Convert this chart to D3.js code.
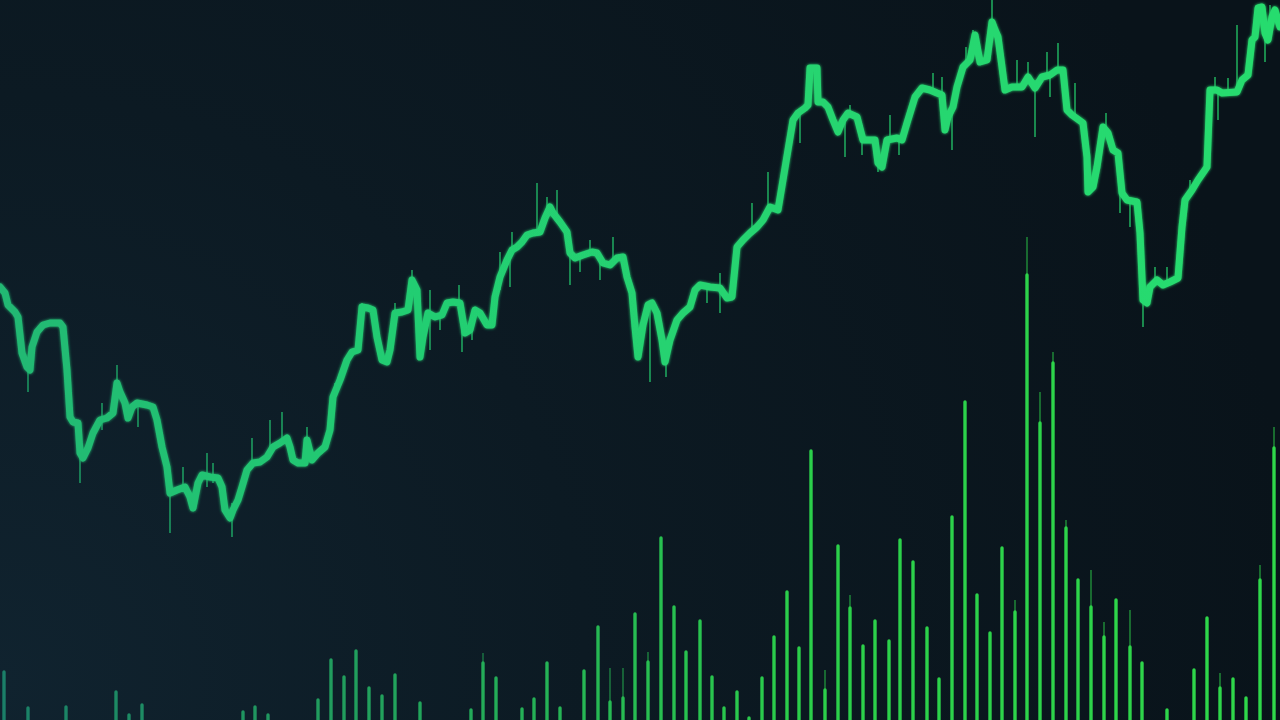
<!DOCTYPE html>
<html>
<head>
<meta charset="utf-8">
<script src="https://cdn.jsdelivr.net/npm/d3@7"></script>
<style>
  html, body { margin: 0; padding: 0; background: #0b161e; overflow: hidden; }
  svg { display: block; }
</style>
</head>
<body>
<div id="chart"></div>
<script>
// price line: time (minutes) and price
const priceT = [0,5,8,15,18,22,27,30,32,37,43,50,60,63,67,70,73,78,80,83,88,93,100,107,113,117,120,125,128,132,137,147,153,157,162,167,170,177,185,190,193,198,202,210,218,222,225,230,233,238,242,247,253,260,267,273,280,287,290,293,298,305,307,312,318,325,330,
  333,340,347,352,358,362,368,373,377,382,387,390,395,402,408,412,417,420,423,428,435,442,447,453,460,465,470,475,480,487,492,495,500,507,512,517,522,527,533,540,545,550,553,560,567,570,575,583,592,597,603,610,617,623,627,632,635,638,643,648,
  652,657,662,665,670,677,683,690,695,700,710,720,727,732,737,743,750,757,763,770,778,783,788,793,798,805,808,810,817,818,823,828,833,838,843,848,857,863,870,875,878,882,887,897,902,907,915,922,930,937,942,945,948,953,957,963,970,975,980,987,992,995,998,1002,1005,1012,1022,1028,1035,1042,1050,1057,1063,1067,1072,1083,1087,1088,1093,1097,1103,1108,1113,1118,1122,1127,1137,1140,1143,1147,1150,1157,1163,1170,1178,1182,1185,1192,1198,1207,1210,1217,1222,1237,1242,1248,1252,1255,1258,1262,1265,1268,1272,1275,1280];
const priceV = [83.3,82.7,81.5,80.8,80.3,76.7,75.3,75.0,77.3,78.8,79.5,79.7,79.7,79.3,75.0,70.3,69.8,69.7,66.7,66.2,67.2,68.7,70.0,70.2,70.7,73.7,72.8,71.7,70.2,71.3,71.7,71.5,71.3,70.0,67.3,65.3,62.7,63.0,63.3,62.3,61.2,63.7,64.5,64.3,64.2,63.3,61.0,60.2,61.0,62.0,63.3,65.0,65.7,65.8,66.3,67.3,67.7,68.2,67.3,66.0,65.7,65.7,68.0,66.0,66.7,67.3,69.0,
  72.3,74.0,76.0,76.8,77.0,81.3,81.2,81.0,78.3,76.0,75.8,77.0,80.7,80.8,81.0,84.0,83.0,76.3,78.3,80.7,80.3,80.5,81.7,81.8,81.7,78.7,79.0,81.0,80.7,79.5,79.5,82.3,84.3,86.0,87.0,87.3,87.8,88.5,88.7,88.8,90.2,91.3,90.7,89.8,88.8,86.7,86.2,86.5,86.8,86.7,85.7,85.5,86.2,86.3,84.3,82.7,79.3,76.3,79.5,81.5,
  81.7,80.7,78.0,75.8,78.0,80.0,80.7,81.3,83.0,83.5,83.3,83.2,82.2,82.3,87.3,88.0,88.7,89.3,90.0,91.3,91.0,94.0,97.0,100.0,100.7,101.2,101.5,105.2,105.2,101.8,101.8,101.3,100.0,98.8,100.0,100.7,100.3,98.0,98.0,98.0,95.7,95.3,98.0,98.2,98.0,99.7,102.3,103.2,103.0,102.7,102.5,99.0,100.3,101.3,103.3,105.3,106.0,108.5,105.8,106.0,109.8,109.0,108.3,105.3,103.0,103.3,103.3,104.3,103.2,104.3,104.5,105.0,105.0,101.0,100.5,99.7,96.3,92.8,93.3,95.3,99.3,98.7,97.0,96.7,92.7,92.0,91.8,88.7,82.0,81.7,83.3,84.0,83.5,83.8,84.2,89.3,92.0,93.0,94.0,95.3,103.0,103.0,102.7,102.8,104.0,104.5,108.0,108.3,111.2,111.3,108.7,108.0,110.3,111.0,109.3];

// thin high/low ticks around the line
const wickT  = [28,80,102,117,138,170,183,207,213,232,252,270,282,307,335,362,395,412,430,440,459,462,472,500,510,512,537,547,557,570,580,590,600,613,650,666,707,720,752,768,800,845,850,862,878,890,899,933,942,952,966,973,992,1017,1028,1035,1047,1050,1058,1075,1106,1120,1130,1143,1155,1167,1190,1215,1218,1228,1237,1265,1270];
const wickHi = [76.0,67.0,71.7,75.5,72.0,63.0,65.3,66.7,65.7,61.7,68.2,70.0,70.8,69.3,73.7,81.7,81.7,85.0,83.0,80.5,83.5,81.7,79.0,86.8,87.0,88.8,93.7,92.3,93.0,86.7,86.5,88.0,86.2,88.3,81.7,78.0,83.5,84.7,91.7,94.8,100.7,100.2,101.5,99.5,96.0,100.5,98.2,104.7,104.3,101.3,107.3,109.0,112.0,106.0,105.8,104.0,106.8,104.5,107.7,103.7,100.7,92.7,92.0,82.0,85.3,85.3,94.0,104.3,103.0,104.2,109.5,108.7,111.5];
const wickLo = [72.8,63.7,69.0,73.5,69.3,58.7,63.0,63.3,63.7,58.3,65.5,67.3,67.7,67.5,72.0,80.8,80.5,83.8,77.0,79.0,81.7,76.8,78.0,83.0,83.3,87.0,88.7,90.2,89.7,83.5,84.8,86.7,84.0,86.2,73.8,74.3,81.7,80.7,88.5,90.5,97.7,96.3,100.5,96.5,94.8,98.0,96.5,103.0,102.5,97.0,105.3,107.5,109.7,103.3,104.3,98.3,104.4,102.3,105.0,100.5,98.7,90.7,89.3,79.3,83.8,83.6,93.0,103.0,100.0,102.7,102.8,105.8,110.0];

// volume bars: time, volume, and high tick of the bar
const volT  = [4,28,66,116,129,142,243,255,268,318,331,344,356,369,382,395,420,471,483,496,522,534,547,560,584,598,610,623,635,648,661,674,686,700,712,724,737,749,762,774,787,799,811,825,838,850,863,875,889,900,913,927,939,952,965,977,990,1002,1015,1027,1040,1053,1066,1078,1091,1104,1116,1130,1142,1167,1194,1207,1220,1233,1246,1260,1274];
const volV  = [48,12,13,28,5,15,8,13,5,20,60,43,69,32,24,45,17,10,57,42,11,21,57,12,49,93,18,22,106,58,182,113,68,99,43,12,28,2,42,83,128,72,269,30,174,112,74,99,79,180,158,92,41,203,318,125,87,172,108,445,297,357,192,140,113,83,120,73,57,10,50,102,32,41,22,140,272];
const volHi = [48,12,13,28,5,15,8,13,5,20,60,43,69,32,24,45,17,10,67,42,11,21,57,12,49,93,52,52,106,68,182,113,68,99,43,12,28,2,42,83,128,72,269,50,174,125,74,99,79,180,158,92,41,203,318,125,87,172,120,483,328,368,200,140,150,98,120,110,57,10,50,102,47,41,22,155,293];

const width = 1280, height = 720;

const x = d3.scaleLinear().domain([0, 1280]).range([0, width]);
const y = d3.scaleLinear().domain([40, 112]).range([height, 0]);
const yVol = d3.scaleLinear().domain([0, 500]).range([height, height - 500]);

const svg = d3.select("#chart")
    .append("svg")
    .attr("width", width)
    .attr("height", height);

const defs = svg.append("defs");

const bg = defs.append("radialGradient")
    .attr("id", "bg")
    .attr("gradientUnits", "userSpaceOnUse")
    .attr("cx", 0).attr("cy", 680).attr("r", 1300);
bg.append("stop").attr("offset", "0%").attr("stop-color", "#10232f");
bg.append("stop").attr("offset", "45%").attr("stop-color", "#0c1a23");
bg.append("stop").attr("offset", "100%").attr("stop-color", "#09131a");

const glow = defs.append("filter").attr("id", "glow")
    .attr("x", "-5%").attr("y", "-5%").attr("width", "110%").attr("height", "110%");
glow.append("feGaussianBlur").attr("stdDeviation", 1.8).attr("result", "b");
const merge = glow.append("feMerge");
merge.append("feMergeNode").attr("in", "b");
merge.append("feMergeNode").attr("in", "SourceGraphic");

svg.append("rect")
    .attr("width", width)
    .attr("height", height)
    .attr("fill", "url(#bg)");

// volume: left side is dimmer / more teal
const volColor = d3.scaleLinear()
    .domain([0, 450, 800, 1280])
    .range(["#1b7f68", "#23a85a", "#2bcf4a", "#2fd84a"]);

const vol = svg.append("g");

vol.selectAll(".vwick")
    .data(volT)
    .enter()
    .append("line")
    .attr("x1", d => x(d))
    .attr("x2", d => x(d))
    .attr("y1", (d, i) => yVol(volHi[i]))
    .attr("y2", height)
    .attr("stroke", d => volColor(d))
    .attr("stroke-width", 1.2)
    .attr("opacity", 0.75);

vol.selectAll(".vbar")
    .data(volT)
    .enter()
    .append("line")
    .attr("x1", d => x(d))
    .attr("x2", d => x(d))
    .attr("y1", (d, i) => yVol(volV[i]))
    .attr("y2", height + 4)
    .attr("stroke", d => volColor(d))
    .attr("stroke-width", 3.4)
    .attr("stroke-linecap", "round");

// price
const lineColor = d3.scaleLinear()
    .domain([0, 400, 1280])
    .range(["#20b873", "#24cf72", "#27dc70"]);

const g = svg.append("g");

g.selectAll(".wick")
    .data(wickT)
    .enter()
    .append("line")
    .attr("x1", d => x(d))
    .attr("x2", d => x(d))
    .attr("y1", (d, i) => y(wickHi[i]))
    .attr("y2", (d, i) => y(wickLo[i]))
    .attr("stroke", d => lineColor(d))
    .attr("stroke-width", 1.4)
    .attr("opacity", 0.85);

const points = priceT.map((t, i) => [t, priceV[i]]);

const line = d3.line()
    .x(d => x(d[0]))
    .y(d => y(d[1]));

const grad = defs.append("linearGradient")
    .attr("id", "lineGrad")
    .attr("gradientUnits", "userSpaceOnUse")
    .attr("x1", 0).attr("x2", width).attr("y1", 0).attr("y2", 0);
grad.append("stop").attr("offset", "0%").attr("stop-color", "#20b873");
grad.append("stop").attr("offset", "35%").attr("stop-color", "#24cf72");
grad.append("stop").attr("offset", "100%").attr("stop-color", "#28dc6e");

g.append("path")
    .datum(points)
    .attr("d", line)
    .attr("fill", "none")
    .attr("stroke", "url(#lineGrad)")
    .attr("stroke-width", 7)
    .attr("stroke-linejoin", "round")
    .attr("stroke-linecap", "round")
    .attr("filter", "url(#glow)");
</script>
</body>
</html>
